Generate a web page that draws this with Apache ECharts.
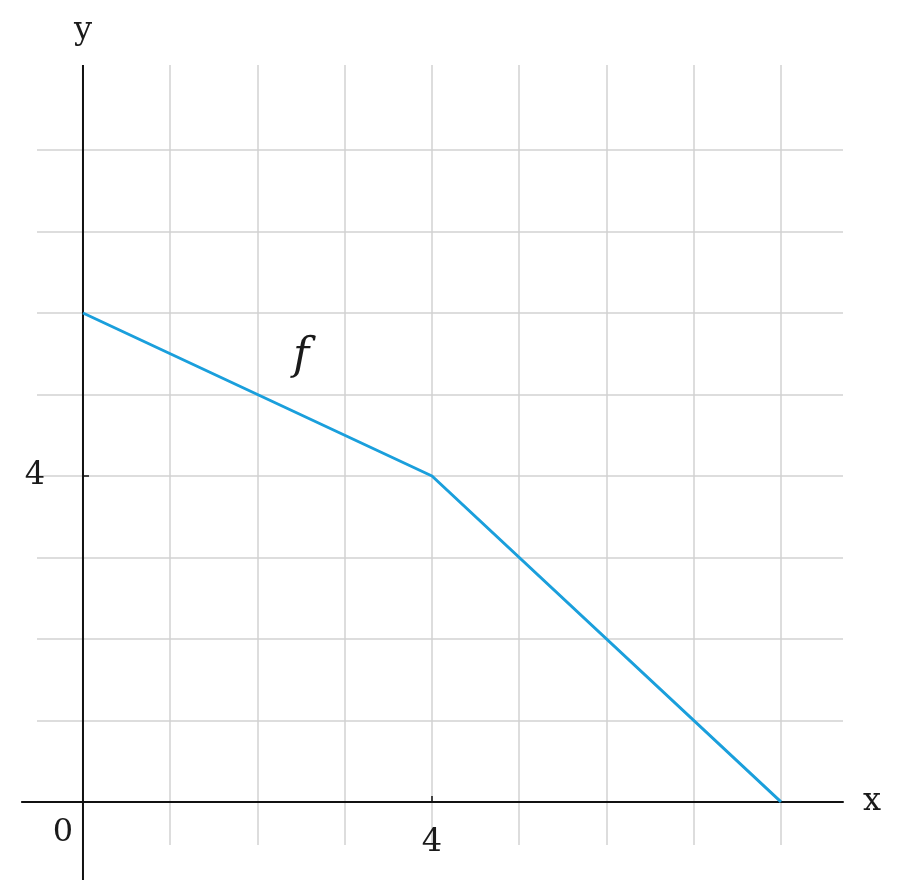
<!DOCTYPE html>
<html>
<head>
<meta charset="utf-8">
<script src="https://cdn.jsdelivr.net/npm/echarts@6/dist/echarts.min.js"></script>
<style>html,body{margin:0;padding:0;background:#fff;}#c{width:901px;height:880px;}</style>
</head>
<body>
<div id="c"></div>
<script>
// Data
const fX = [0, 4, 8];
const fY = [6, 4, 0];
const xRange = [-0.527, 8.711];
const yRange = [-0.528, 9.043];
const yGridRange = [-0.528, 8.5];
const xAxisLineRange = [-0.70, 8.711];
const yAxisLineY = [-0.96, 9.043];
const tickLabelsX = [4];
const tickLabelsY = [4];
const curveName = 'f';
const curveLabelPos = [2.5, 5.45];
const originLabel = '0';

const fData = fX.map((x, i) => [x, fY[i]]);
const serif = 'DejaVu Serif';
const txt = '#1a1a1a';
const hidden = 'rgba(0,0,0,0)';
const gridColor = '#d2d2d2';

// pixel layout
const L = 37, R = 58, T = 65, B = 35, W = 901, H = 880;
const plotW = W - L - R, plotH = H - T - B;
const xUnit = plotW / (xRange[1] - xRange[0]);
const yUnit = plotH / (yRange[1] - yRange[0]);
const topB = T + (yRange[1] - yGridRange[1]) * yUnit;
const leftC = L + (xAxisLineRange[0] - xRange[0]) * xUnit;

const bare = (range, gridIndex, pos) => ({
  type: 'value', min: range[0], max: range[1], gridIndex, position: pos,
  axisLine: {show: false}, axisTick: {show: false}, axisLabel: {show: false}, splitLine: {show: false}
});
const splitAxis = (range, gridIndex, pos) => Object.assign(bare(range, gridIndex, pos), {
  minInterval: 1, maxInterval: 1,
  splitLine: {show: true, showMinLine: false, showMaxLine: false, lineStyle: {color: gridColor, width: 1.5}}
});

const chart = echarts.init(document.getElementById('c'), null, {renderer: 'canvas'});
chart.setOption({
  animation: false,
  grid: [
    {left: L, right: R, top: T, bottom: B, containLabel: false, outerBoundsMode: 'none'},
    {left: L, right: R, top: topB, bottom: B, containLabel: false, outerBoundsMode: 'none'},
    {left: leftC, right: R, top: T, bottom: B, containLabel: false, outerBoundsMode: 'none'}
  ],
  xAxis: [
    Object.assign(bare(xRange, 0, 'bottom'), {
      name: 'x', nameLocation: 'end', nameGap: 20,
      nameTextStyle: {fontFamily: serif, fontSize: 32, color: txt, verticalAlign: 'middle', padding: [20, 0, 0, 0]},
      axisLine: {show: true, onZero: true, lineStyle: {color: hidden, width: 1}},
      axisTick: {show: true, customValues: tickLabelsX, inside: true, length: 6, lineStyle: {color: '#111', width: 1.5}},
      axisLabel: {show: true, customValues: tickLabelsX, fontFamily: serif, fontSize: 32, color: txt, margin: -18}
    }),
    bare(xRange, 1, 'bottom'),
    splitAxis(xRange, 0, 'top'),
    Object.assign(bare(xAxisLineRange, 2, 'bottom'), {
      axisLine: {show: true, onZero: true, lineStyle: {color: '#111', width: 2}}
    })
  ],
  yAxis: [
    Object.assign(bare(yRange, 0, 'left'), {
      name: 'y', nameLocation: 'end', nameGap: 18,
      nameTextStyle: {fontFamily: serif, fontSize: 32, color: txt, align: 'center'},
      axisLine: {show: true, onZero: true, lineStyle: {color: hidden, width: 1}},
      axisTick: {show: true, customValues: tickLabelsY, inside: true, length: 6, lineStyle: {color: '#111', width: 1.5}},
      axisLabel: {show: true, customValues: tickLabelsY, fontFamily: serif, fontSize: 32, color: txt, margin: -8, padding: [7, 0, 0, 0]}
    }),
    splitAxis(yGridRange, 1, 'left'),
    bare(yRange, 2, 'left')
  ],
  series: [
    {
      type: 'line', clip: false, silent: true, symbol: 'none',
      data: yAxisLineY.map(y => [0, y]),
      lineStyle: {color: '#111', width: 2}, z: 5
    },
    {
      type: 'line', data: fData, symbol: 'none', clip: false,
      lineStyle: {color: '#1a9fdc', width: 3}, z: 6
    },
    {
      type: 'scatter', symbolSize: 0, silent: true, clip: false,
      itemStyle: {color: txt, opacity: 1},
      label: {show: true, position: 'inside', color: txt, textBorderWidth: 0, opacity: 1},
      data: [
        {value: curveLabelPos, label: {formatter: curveName, fontFamily: serif, fontStyle: 'italic', fontSize: 44, color: txt, textBorderWidth: 0}},
        {value: [0, 0], label: {formatter: originLabel, offset: [-20, 31], fontFamily: serif, fontSize: 32, color: txt, textBorderWidth: 0}}
      ],
      z: 7
    }
  ]
});
</script>
</body>
</html>
